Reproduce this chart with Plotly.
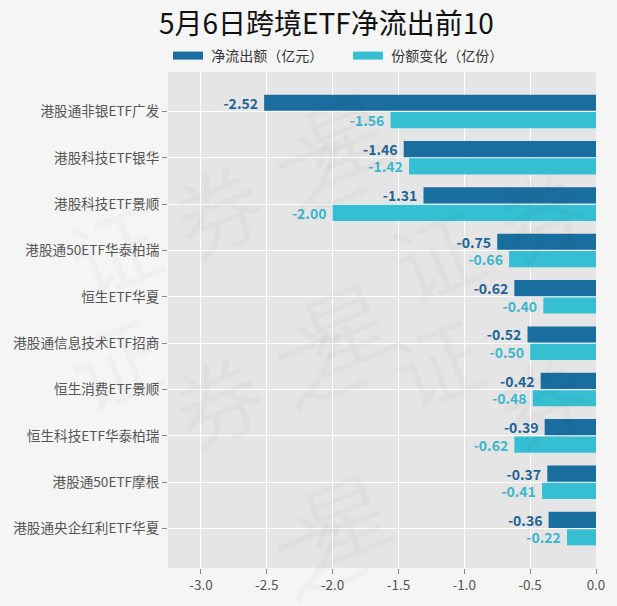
"""5月6日跨境ETF净流出前10 - grouped horizontal bars."""

import plotly.graph_objects as go

categories = [
    "港股通非银ETF广发",
    "港股科技ETF银华",
    "港股科技ETF景顺",
    "港股通50ETF华泰柏瑞",
    "恒生ETF华夏",
    "港股通信息技术ETF招商",
    "恒生消费ETF景顺",
    "恒生科技ETF华泰柏瑞",
    "港股通50ETF摩根",
    "港股通央企红利ETF华夏",
]
net_outflow = [-2.52, -1.46, -1.31, -0.75, -0.62, -0.52, -0.42, -0.39, -0.37, -0.36]
share_change = [-1.56, -1.42, -2.00, -0.66, -0.40, -0.50, -0.48, -0.62, -0.41, -0.22]
x_ticks = [-3.0, -2.5, -2.0, -1.5, -1.0, -0.5, 0.0]
series_names = ["净流出额（亿元）", "份额变化（亿份）"]

font_family = "Noto Sans CJK SC, Noto Sans, sans-serif"
dark_color = "#1a6e9f"
light_color = "#36bfd3"
dark_text = "#1d6494"
light_text = "#3bb6cc"
tick_color = "#555555"

# plot area in pixels (617 x 606 canvas)
PL, PR, PT, PB = 168, 598, 72, 570


def px_to_paper(px, py):
    return (px - PL) / (PR - PL), (PB - py) / (PB - PT)


fig = go.Figure()

for vals, name, col, tcol in [
    (net_outflow, series_names[0], dark_color, dark_text),
    (share_change, series_names[1], light_color, light_text),
]:
    fig.add_trace(go.Bar(
        y=categories,
        x=vals,
        orientation="h",
        name=name,
        marker=dict(color=col, line=dict(width=0)),
        text=[f"{v:.2f} " for v in vals],
        textposition="outside",
        constraintext="none",
        textfont=dict(size=14, color=tcol, family=font_family, weight="bold"),
        cliponaxis=False,
        showlegend=False,
    ))

# legend swatches as wide bars (line samples)
for name, col in [(series_names[0], dark_color), (series_names[1], light_color)]:
    fig.add_trace(go.Scatter(
        x=[None], y=[None],
        mode="lines",
        name=" " + name,
        line=dict(color=col, width=8),
        hoverinfo="skip",
    ))

fig.update_layout(
    width=617,
    height=606,
    barmode="group",
    bargap=0.25,
    bargroupgap=0.07,
    paper_bgcolor="#f5f5f5",
    plot_bgcolor="#e5e5e5",
    font=dict(family=font_family, color=tick_color),
    margin=dict(l=PL, r=617 - PR, t=PT, b=606 - PB),
    legend=dict(
        orientation="h",
        x=0.0, y=1.0,
        xanchor="left", yanchor="bottom",
        font=dict(size=14, color="#333333"),
        bgcolor="rgba(0,0,0,0)",
        entrywidth=135,
        entrywidthmode="pixels",
        traceorder="normal",
    ),
    xaxis=dict(
        range=[-3.25, 0],
        tickvals=x_ticks,
        ticktext=[f"{v:.1f}" for v in x_ticks],
        showgrid=True,
        gridcolor="#ffffff",
        gridwidth=1,
        zeroline=False,
        ticks="outside",
        ticklen=5,
        tickcolor="#888888",
        tickfont=dict(size=13.5, color=tick_color),
    ),
    yaxis=dict(
        type="category",
        categoryorder="array",
        categoryarray=categories,
        range=[len(categories) - 1 + 0.85, -0.85],
        showgrid=True,
        gridcolor="#ffffff",
        gridwidth=1,
        ticks="outside",
        ticklen=5,
        tickcolor="#888888",
        tickfont=dict(size=13.6, color=tick_color),
    ),
)

# title
tx, ty = px_to_paper(327, 22)
fig.add_annotation(
    x=tx, y=ty,
    xref="paper", yref="paper",
    text="5月6日跨境ETF净流出前10",
    showarrow=False,
    font=dict(size=28, color="#111111", family=font_family),
    xanchor="center",
    yanchor="middle",
)

# faint tiled watermark "证券之星"
tile_origins = [(45, 170), (505, 175), (45, 440), (505, 440), (45, 710)]
char_offsets = [(0, 0), (105, -40), (205, -80), (300, -115)]
for ox, oy in tile_origins:
    for ch, (dx, dy) in zip("证券之星", char_offsets):
        cx, cy = ox + dx, oy + dy
        if not (-60 < cx < 680 and -60 < cy < 670):
            continue
        wx, wy = px_to_paper(cx, cy)
        fig.add_annotation(
            x=wx, y=wy,
            xref="paper", yref="paper",
            text=ch,
            showarrow=False,
            textangle=-22,
            font=dict(size=88, color="rgba(0,0,0,0.025)", family=font_family),
        )

fig.write_html(
    "out.html",
    config={"displayModeBar": False},
    post_script="document.body.style.margin='0';",
)
